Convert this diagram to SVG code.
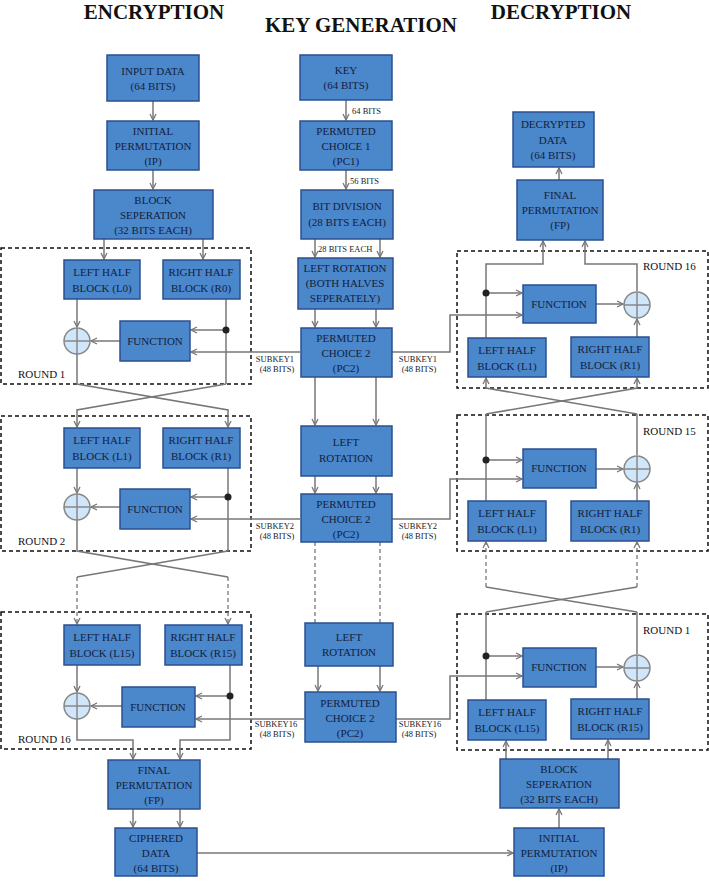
<svg xmlns="http://www.w3.org/2000/svg" width="709" height="881" viewBox="0 0 709 881">
<style>
text{font-family:"Liberation Serif","Times New Roman","DejaVu Serif",serif}
.b{fill:#4a87cb;stroke:#2d4f91;stroke-width:1.5}
.t{font-size:11px;fill:#14213d;text-anchor:middle}
.s{font-size:8.5px;fill:#222;text-anchor:middle}
.r{font-size:11px;fill:#111}
.h{font-size:21px;font-weight:bold;fill:#111;text-anchor:middle}
.d{fill:none;stroke:#111;stroke-width:1.5;stroke-dasharray:4 3}
.c{fill:none;stroke:#777;stroke-width:1.5}
.cd{fill:none;stroke:#777;stroke-width:1.3;stroke-dasharray:4 3}
.x{fill:#cfe6fb;stroke:#888;stroke-width:1.5}
.dot{fill:#222}
</style>
<defs>
<marker id="a" markerWidth="8" markerHeight="8" refX="7" refY="4" orient="auto" markerUnits="userSpaceOnUse">
<path d="M1,1 L7,4 L1,7" fill="none" stroke="#777" stroke-width="1.3"/>
</marker>
</defs>
<rect width="709" height="881" fill="#fff"/>
<text class="h" x="154" y="19">ENCRYPTION</text>
<text class="h" x="361" y="32">KEY GENERATION</text>
<text class="h" x="561" y="19">DECRYPTION</text>

<g id="dashed-rounds">
<rect class="d" x="1" y="248" width="250" height="136"/>
<rect class="d" x="1" y="416" width="250" height="135"/>
<rect class="d" x="1" y="612" width="250" height="137"/>
<rect class="d" x="457" y="251" width="251" height="137"/>
<rect class="d" x="457" y="415" width="251" height="136"/>
<rect class="d" x="457" y="614" width="251" height="136"/>
<text class="r" x="18" y="378">ROUND 1</text>
<text class="r" x="18" y="545">ROUND 2</text>
<text class="r" x="18" y="743">ROUND 16</text>
<text class="r" x="643" y="270">ROUND 16</text>
<text class="r" x="643" y="435">ROUND 15</text>
<text class="r" x="643" y="634">ROUND 1</text>
</g>

<g id="connectors">
<path class="c" d="M153,101 V120" marker-end="url(#a)"/>
<path class="c" d="M153,170 V189" marker-end="url(#a)"/>
<path class="c" d="M104,239 V259" marker-end="url(#a)"/>
<path class="c" d="M203,239 V259" marker-end="url(#a)"/>
<path class="c" d="M77,299 V327" marker-end="url(#a)"/>
<path class="c" d="M120,341 H91" marker-end="url(#a)"/>
<path class="c" d="M226,299 V384"/>
<path class="c" d="M226,330 H191" marker-end="url(#a)"/>
<path class="c" d="M77,354 V384 L228,410 V427" marker-end="url(#a)"/>
<path class="c" d="M226,384 L77,410 V427" marker-end="url(#a)"/>
<path class="c" d="M300,352 H191" marker-end="url(#a)"/>
<path class="c" d="M77,468 V493" marker-end="url(#a)"/>
<path class="c" d="M120,507 H91" marker-end="url(#a)"/>
<path class="c" d="M228,468 V551"/>
<path class="c" d="M228,497 H191" marker-end="url(#a)"/>
<path class="c" d="M300,519 H191" marker-end="url(#a)"/>
<path class="c" d="M77,520 V551 L228,577"/>
<path class="c" d="M228,551 L77,577"/>
<path class="cd" d="M77,577 V624" marker-end="url(#a)"/>
<path class="cd" d="M228,577 V624" marker-end="url(#a)"/>
<path class="c" d="M77,665 V692" marker-end="url(#a)"/>
<path class="c" d="M122,706 H91" marker-end="url(#a)"/>
<path class="c" d="M230,665 V740 H180 V759" marker-end="url(#a)"/>
<path class="c" d="M230,696 H196" marker-end="url(#a)"/>
<path class="c" d="M304,719 H196" marker-end="url(#a)"/>
<path class="c" d="M77,719 V740 H133 V759" marker-end="url(#a)"/>
<path class="c" d="M133,809 V827" marker-end="url(#a)"/>
<path class="c" d="M180,809 V827" marker-end="url(#a)"/>
<path class="c" d="M197,853 H513" marker-end="url(#a)"/>
<path class="c" d="M346,100 V120" marker-end="url(#a)"/>
<path class="c" d="M346,170 V189" marker-end="url(#a)"/>
<path class="c" d="M315,239 V257" marker-end="url(#a)"/>
<path class="c" d="M380,239 V257" marker-end="url(#a)"/>
<path class="c" d="M315,309 V327" marker-end="url(#a)"/>
<path class="c" d="M376,309 V327" marker-end="url(#a)"/>
<path class="c" d="M315,377 V425" marker-end="url(#a)"/>
<path class="c" d="M376,377 V425" marker-end="url(#a)"/>
<path class="c" d="M315,476 V493" marker-end="url(#a)"/>
<path class="c" d="M376,476 V493" marker-end="url(#a)"/>
<path class="cd" d="M315,542 V623"/>
<path class="cd" d="M380,542 V623"/>
<path class="c" d="M318,666 V691" marker-end="url(#a)"/>
<path class="c" d="M380,666 V691" marker-end="url(#a)"/>
<path class="c" d="M392,352 H450 V315 H522" marker-end="url(#a)"/>
<path class="c" d="M392,519 H450 V479 H522" marker-end="url(#a)"/>
<path class="c" d="M396,719 H450 V676 H522" marker-end="url(#a)"/>
<path class="c" d="M559,180 V168" marker-end="url(#a)"/>
<path class="c" d="M486,338 V264 H543 V241" marker-end="url(#a)"/>
<path class="c" d="M486,293 H522" marker-end="url(#a)"/>
<path class="c" d="M596,304 H623" marker-end="url(#a)"/>
<path class="c" d="M637,337 V319" marker-end="url(#a)"/>
<path class="c" d="M637,291 V264 H585 V241" marker-end="url(#a)"/>
<path class="c" d="M486,414 L637,388 V378" marker-end="url(#a)"/>
<path class="c" d="M637,414 L486,388 V378" marker-end="url(#a)"/>
<path class="c" d="M486,501 V414"/>
<path class="c" d="M637,501 V483" marker-end="url(#a)"/>
<path class="c" d="M637,455 V414"/>
<path class="c" d="M486,460 H522" marker-end="url(#a)"/>
<path class="c" d="M596,469 H623" marker-end="url(#a)"/>
<path class="cd" d="M486,587 V542" marker-end="url(#a)"/>
<path class="cd" d="M637,587 V542" marker-end="url(#a)"/>
<path class="c" d="M486,612 L637,587"/>
<path class="c" d="M637,612 L486,587"/>
<path class="c" d="M486,700 V612"/>
<path class="c" d="M637,699 V682" marker-end="url(#a)"/>
<path class="c" d="M637,654 V612"/>
<path class="c" d="M486,656 H522" marker-end="url(#a)"/>
<path class="c" d="M596,667 H623" marker-end="url(#a)"/>
<path class="c" d="M506,759 V741" marker-end="url(#a)"/>
<path class="c" d="M608,759 V740" marker-end="url(#a)"/>
<path class="c" d="M559,828 V809" marker-end="url(#a)"/>
<circle class="dot" cx="226" cy="330" r="3.5"/>
<circle class="dot" cx="228" cy="497" r="3.5"/>
<circle class="dot" cx="230" cy="696" r="3.5"/>
<circle class="dot" cx="486" cy="293" r="3.5"/>
<circle class="dot" cx="486" cy="460" r="3.5"/>
<circle class="dot" cx="486" cy="656" r="3.5"/>
<text class="s" x="352" y="114" style="text-anchor:start">64 BITS</text>
<text class="s" x="350" y="184" style="text-anchor:start">56 BITS</text>
<text class="s" x="318" y="252" style="text-anchor:start">28 BITS EACH</text>
<text class="s" x="275" y="362">SUBKEY1</text><text class="s" x="277" y="372">(48 BITS)</text>
<text class="s" x="418" y="362">SUBKEY1</text><text class="s" x="419" y="372">(48 BITS)</text>
<text class="s" x="275" y="529">SUBKEY2</text><text class="s" x="277" y="539">(48 BITS)</text>
<text class="s" x="418" y="529">SUBKEY2</text><text class="s" x="419" y="539">(48 BITS)</text>
<text class="s" x="276" y="727">SUBKEY16</text><text class="s" x="277" y="737">(48 BITS)</text>
<text class="s" x="420" y="727">SUBKEY16</text><text class="s" x="419" y="737">(48 BITS)</text>
</g>

<g id="xors">
<g><circle class="x" cx="77" cy="341" r="13"/><path class="c" d="M64,341 H90 M77,328 V354" style="stroke:#888"/></g>
<g><circle class="x" cx="77" cy="507" r="13"/><path class="c" d="M64,507 H90 M77,494 V520" style="stroke:#888"/></g>
<g><circle class="x" cx="77" cy="706" r="13"/><path class="c" d="M64,706 H90 M77,693 V719" style="stroke:#888"/></g>
<g><circle class="x" cx="637" cy="305" r="13"/><path class="c" d="M624,305 H650 M637,292 V318" style="stroke:#888"/></g>
<g><circle class="x" cx="637" cy="469" r="13"/><path class="c" d="M624,469 H650 M637,456 V482" style="stroke:#888"/></g>
<g><circle class="x" cx="637" cy="668" r="13"/><path class="c" d="M624,668 H650 M637,655 V681" style="stroke:#888"/></g>
</g>

<g id="e-input"><rect class="b" x="107" y="55" width="92" height="46"/><text class="t" x="153" y="75">INPUT DATA</text><text class="t" x="153" y="90">(64 BITS)</text></g>
<g id="e-ip"><rect class="b" x="107" y="121" width="92" height="49"/><text class="t" x="153" y="135">INITIAL</text><text class="t" x="153" y="150">PERMUTATION</text><text class="t" x="153" y="165">(IP)</text></g>
<g id="e-bs"><rect class="b" x="94" y="190" width="119" height="49"/><text class="t" x="153" y="204">BLOCK</text><text class="t" x="153" y="219">SEPERATION</text><text class="t" x="153" y="234">(32 BITS EACH)</text></g>
<g id="e-l0"><rect class="b" x="64" y="260" width="76" height="39"/><text class="t" x="102" y="276">LEFT HALF</text><text class="t" x="102" y="292">BLOCK (L0)</text></g>
<g id="e-r0"><rect class="b" x="163" y="260" width="77" height="39"/><text class="t" x="201" y="276">RIGHT HALF</text><text class="t" x="201" y="292">BLOCK (R0)</text></g>
<g id="e-f1"><rect class="b" x="120" y="321" width="70" height="40"/><text class="t" x="155" y="345">FUNCTION</text></g>
<g id="e-l1"><rect class="b" x="64" y="428" width="76" height="40"/><text class="t" x="102" y="444">LEFT HALF</text><text class="t" x="102" y="460">BLOCK (L1)</text></g>
<g id="e-r1"><rect class="b" x="163" y="428" width="77" height="40"/><text class="t" x="201" y="444">RIGHT HALF</text><text class="t" x="201" y="460">BLOCK (R1)</text></g>
<g id="e-f2"><rect class="b" x="120" y="489" width="70" height="40"/><text class="t" x="155" y="513">FUNCTION</text></g>
<g id="e-l15"><rect class="b" x="64" y="625" width="76" height="40"/><text class="t" x="102" y="641">LEFT HALF</text><text class="t" x="102" y="657">BLOCK (L15)</text></g>
<g id="e-r15"><rect class="b" x="165" y="625" width="77" height="40"/><text class="t" x="203" y="641">RIGHT HALF</text><text class="t" x="203" y="657">BLOCK (R15)</text></g>
<g id="e-f16"><rect class="b" x="122" y="687" width="73" height="40"/><text class="t" x="158" y="711">FUNCTION</text></g>
<g id="e-fp"><rect class="b" x="108" y="760" width="92" height="49"/><text class="t" x="154" y="774">FINAL</text><text class="t" x="154" y="789">PERMUTATION</text><text class="t" x="154" y="804">(FP)</text></g>
<g id="e-ct"><rect class="b" x="115" y="828" width="82" height="48"/><text class="t" x="156" y="842">CIPHERED</text><text class="t" x="156" y="857">DATA</text><text class="t" x="156" y="872">(64 BITS)</text></g>

<g id="k-key"><rect class="b" x="300" y="55" width="92" height="45"/><text class="t" x="346" y="74">KEY</text><text class="t" x="346" y="89">(64 BITS)</text></g>
<g id="k-pc1"><rect class="b" x="300" y="121" width="92" height="49"/><text class="t" x="346" y="135">PERMUTED</text><text class="t" x="346" y="150">CHOICE 1</text><text class="t" x="346" y="165">(PC1)</text></g>
<g id="k-bd"><rect class="b" x="301" y="190" width="92" height="49"/><text class="t" x="347" y="210">BIT DIVISION</text><text class="t" x="347" y="226">(28 BITS EACH)</text></g>
<g id="k-lr1"><rect class="b" x="298" y="258" width="95" height="51"/><text class="t" x="345" y="272">LEFT ROTATION</text><text class="t" x="345" y="287">(BOTH HALVES</text><text class="t" x="345" y="302">SEPERATELY)</text></g>
<g id="k-pc2a"><rect class="b" x="301" y="328" width="91" height="49"/><text class="t" x="346" y="342">PERMUTED</text><text class="t" x="346" y="357">CHOICE 2</text><text class="t" x="346" y="372">(PC2)</text></g>
<g id="k-lr2"><rect class="b" x="301" y="426" width="91" height="50"/><text class="t" x="346" y="446">LEFT</text><text class="t" x="346" y="462">ROTATION</text></g>
<g id="k-pc2b"><rect class="b" x="301" y="494" width="91" height="48"/><text class="t" x="346" y="508">PERMUTED</text><text class="t" x="346" y="523">CHOICE 2</text><text class="t" x="346" y="538">(PC2)</text></g>
<g id="k-lr3"><rect class="b" x="305" y="623" width="88" height="43"/><text class="t" x="349" y="641">LEFT</text><text class="t" x="349" y="656">ROTATION</text></g>
<g id="k-pc2c"><rect class="b" x="305" y="692" width="91" height="50"/><text class="t" x="350" y="707">PERMUTED</text><text class="t" x="350" y="722">CHOICE 2</text><text class="t" x="350" y="737">(PC2)</text></g>

<g id="d-out"><rect class="b" x="513" y="112" width="81" height="55"/><text class="t" x="553" y="128">DECRYPTED</text><text class="t" x="553" y="144">DATA</text><text class="t" x="553" y="159">(64 BITS)</text></g>
<g id="d-fp"><rect class="b" x="517" y="180" width="86" height="60"/><text class="t" x="560" y="199">FINAL</text><text class="t" x="560" y="214">PERMUTATION</text><text class="t" x="560" y="229">(FP)</text></g>
<g id="d-f16"><rect class="b" x="523" y="285" width="73" height="38"/><text class="t" x="559" y="308">FUNCTION</text></g>
<g id="d-l1a"><rect class="b" x="468" y="338" width="78" height="39"/><text class="t" x="507" y="354">LEFT HALF</text><text class="t" x="507" y="370">BLOCK (L1)</text></g>
<g id="d-r1a"><rect class="b" x="571" y="337" width="78" height="40"/><text class="t" x="610" y="353">RIGHT HALF</text><text class="t" x="610" y="369">BLOCK (R1)</text></g>
<g id="d-f15"><rect class="b" x="523" y="449" width="73" height="39"/><text class="t" x="559" y="472">FUNCTION</text></g>
<g id="d-l1b"><rect class="b" x="468" y="501" width="78" height="40"/><text class="t" x="507" y="517">LEFT HALF</text><text class="t" x="507" y="533">BLOCK (L1)</text></g>
<g id="d-r1b"><rect class="b" x="571" y="501" width="78" height="40"/><text class="t" x="610" y="517">RIGHT HALF</text><text class="t" x="610" y="533">BLOCK (R1)</text></g>
<g id="d-f1"><rect class="b" x="523" y="648" width="73" height="39"/><text class="t" x="559" y="671">FUNCTION</text></g>
<g id="d-l15"><rect class="b" x="468" y="700" width="78" height="40"/><text class="t" x="507" y="716">LEFT HALF</text><text class="t" x="507" y="732">BLOCK (L15)</text></g>
<g id="d-r15"><rect class="b" x="571" y="699" width="78" height="40"/><text class="t" x="610" y="715">RIGHT HALF</text><text class="t" x="610" y="731">BLOCK (R15)</text></g>
<g id="d-bs"><rect class="b" x="500" y="759" width="119" height="49"/><text class="t" x="559" y="773">BLOCK</text><text class="t" x="559" y="788">SEPERATION</text><text class="t" x="559" y="803">(32 BITS EACH)</text></g>
<g id="d-ip"><rect class="b" x="514" y="828" width="90" height="48"/><text class="t" x="559" y="842">INITIAL</text><text class="t" x="559" y="857">PERMUTATION</text><text class="t" x="559" y="872">(IP)</text></g>
</svg>
